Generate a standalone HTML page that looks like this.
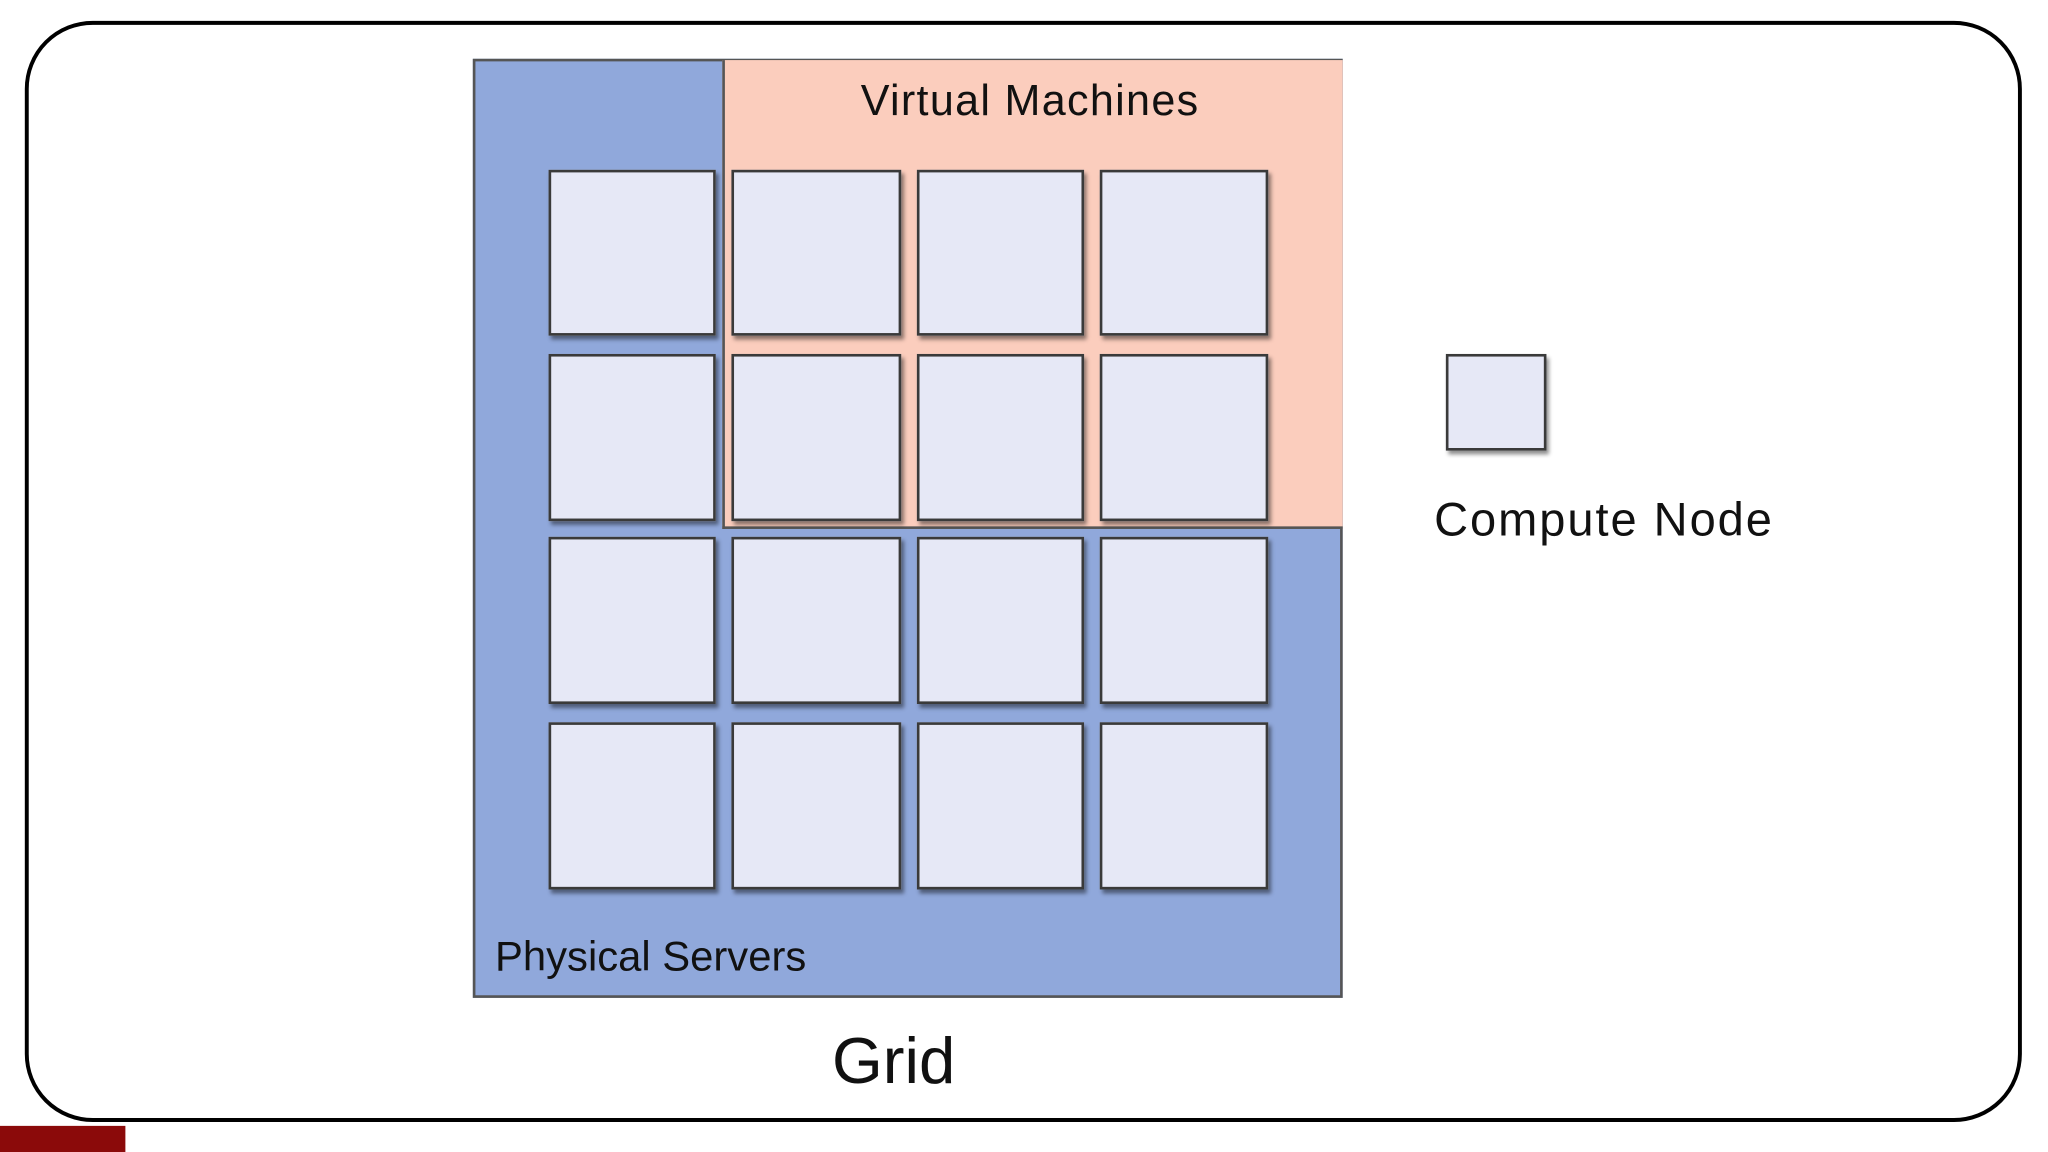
<!DOCTYPE html>
<html><head><style>
html,body{margin:0;padding:0;background:#fff;overflow:hidden}
#w{position:absolute;left:0;top:0;width:1568px;height:882px;transform:scale(1.30612);transform-origin:0 0;font-family:"Liberation Sans",sans-serif}
.a{position:absolute;box-sizing:border-box}
.sq{position:absolute;box-sizing:border-box;background:#e6e8f6;border:2px solid #3a3a3a;box-shadow:2px 3px 3px rgba(0,0,0,.45)}
.t{position:absolute;white-space:nowrap;color:#111}
</style></head><body><div id="w">
<div class="a" style="left:19px;top:16px;width:1529px;height:843px;border:3px solid #000;border-radius:52px"></div>
<div class="a" style="left:362px;top:45px;width:666px;height:719px;background:#90a8db;border:2px solid #555"></div>
<div class="a" style="left:553px;top:46px;width:475px;height:359px;background:#fbcdbd;border:2px solid #555;border-right:none;border-top:none"></div>
<div class="t" style="left:659px;top:58px;font-size:33px;letter-spacing:1px">Virtual Machines</div>
<div class="t" style="left:379px;top:714px;font-size:32px">Physical Servers</div>
<div class="t" style="left:637px;top:783px;font-size:50px">Grid</div>
<div class="t" style="left:1098px;top:377px;font-size:36px;letter-spacing:1.5px">Compute Node</div>
<div class="sq" style="left:1107px;top:271px;width:77px;height:74px"></div>
<div class="sq" style="left:420px;top:130px;width:128px;height:127px"></div>
<div class="sq" style="left:560px;top:130px;width:130px;height:127px"></div>
<div class="sq" style="left:702px;top:130px;width:128px;height:127px"></div>
<div class="sq" style="left:842px;top:130px;width:129px;height:127px"></div>
<div class="sq" style="left:420px;top:271px;width:128px;height:128px"></div>
<div class="sq" style="left:560px;top:271px;width:130px;height:128px"></div>
<div class="sq" style="left:702px;top:271px;width:128px;height:128px"></div>
<div class="sq" style="left:842px;top:271px;width:129px;height:128px"></div>
<div class="sq" style="left:420px;top:411px;width:128px;height:128px"></div>
<div class="sq" style="left:560px;top:411px;width:130px;height:128px"></div>
<div class="sq" style="left:702px;top:411px;width:128px;height:128px"></div>
<div class="sq" style="left:842px;top:411px;width:129px;height:128px"></div>
<div class="sq" style="left:420px;top:553px;width:128px;height:128px"></div>
<div class="sq" style="left:560px;top:553px;width:130px;height:128px"></div>
<div class="sq" style="left:702px;top:553px;width:128px;height:128px"></div>
<div class="sq" style="left:842px;top:553px;width:129px;height:128px"></div>
<div class="a" style="left:0;top:862px;width:96px;height:20px;background:#8b0a0a"></div>
</div></body></html>
